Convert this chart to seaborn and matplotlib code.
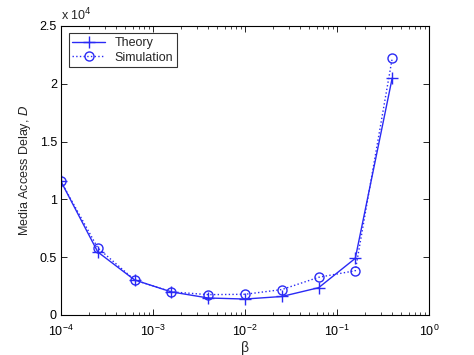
import matplotlib
matplotlib.use("Agg")
import matplotlib.pyplot as plt
import matplotlib.ticker as mticker
import seaborn as sns
import pandas as pd
import numpy as np

beta = [1e-4, 2.51e-4, 6.31e-4, 1.58e-3, 3.98e-3, 1e-2, 2.51e-2, 6.31e-2, 0.158, 0.398]
theory = [11550, 5450, 3030, 2000, 1470, 1380, 1600, 2360, 4900, 20500]
simulation = [11550, 5800, 3030, 2000, 1760, 1790, 2200, 3260, 3830, 22200]
series_names = ["Theory", "Simulation"]

sns.set_style("ticks")
plt.rcParams['font.family'] = ['Liberation Sans', 'DejaVu Sans']

df = pd.DataFrame({
    "beta": beta * 2,
    "D": theory + simulation,
    "series": [series_names[0]] * len(beta) + [series_names[1]] * len(beta),
})

fig = plt.figure(figsize=(4.74, 3.55), dpi=100)
ax = fig.add_axes([0.1287, 0.1127, 0.7764, 0.8141])

color = "#2a2af5"
sns.lineplot(data=df[df.series == "Theory"], x="beta", y="D", ax=ax, color=color,
             marker="+", markersize=8, markeredgewidth=1.0, markeredgecolor=color,
             linewidth=1.0, label="Theory", estimator=None, sort=False)
sns.lineplot(data=df[df.series == "Simulation"], x="beta", y="D", ax=ax, color=color,
             marker="o", markersize=6.5, markerfacecolor="none", markeredgecolor=color,
             markeredgewidth=1.0, linewidth=1.0, linestyle=":",
             label="Simulation", estimator=None, sort=False)

ax.set_xscale("log")
ax.set_xlim(1e-4, 1)
ax.set_ylim(0, 25000)
ax.yaxis.set_major_locator(mticker.MultipleLocator(5000))
ax.yaxis.set_major_formatter(mticker.FuncFormatter(lambda v, p: f"{v/1e4:g}"))
ax.xaxis.set_major_locator(mticker.LogLocator(base=10, numticks=10))
ax.xaxis.set_minor_locator(mticker.LogLocator(base=10, subs=np.arange(2, 10), numticks=20))
ax.xaxis.set_minor_formatter(mticker.NullFormatter())

ax.tick_params(which="both", direction="in", top=True, right=True, labelsize=9, colors="black")
ax.tick_params(which="major", length=4, width=0.6)
ax.tick_params(which="minor", length=2, width=0.5)
ax.tick_params(axis="x", which="major", pad=6)
ax.tick_params(axis="y", which="major", pad=3)
for s in ax.spines.values():
    s.set_visible(True)
    s.set_linewidth(0.8)
    s.set_color("black")

ax.set_xlabel("β", fontsize=10, labelpad=2)
ax.set_ylabel("Media Access Delay, $D$", fontsize=9, labelpad=5)
ax.text(0.0, 1.01, "x 10$^4$", transform=ax.transAxes, fontsize=9, ha="left", va="bottom")

leg = ax.legend(loc="upper left", fontsize=9, frameon=True, fancybox=False,
                edgecolor="black", borderaxespad=0.6, handlelength=2.6,
                borderpad=0.3, labelspacing=0.2)
leg.get_frame().set_linewidth(0.8)

fig.savefig("out.png", dpi=100)
